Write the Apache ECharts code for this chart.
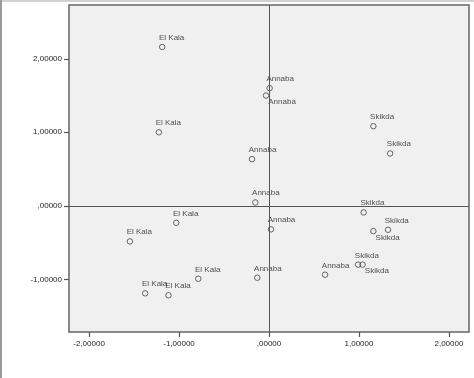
<!DOCTYPE html>
<html>
<head>
<meta charset="utf-8">
<script src="https://cdn.jsdelivr.net/npm/echarts@6/dist/echarts.min.js"></script>
<style>
  html, body { margin: 0; padding: 0; background: #fff; }
  #chart { width: 474px; height: 378px; }
</style>
</head>
<body>
<div id="chart"></div>
<script>
// object scores, dimension 1 (x) and dimension 2 (y)
const elKalaX = [-1.187, -1.224, -1.031, -1.546, -0.786, -1.376, -1.117];
const elKalaY = [2.16, 1.0, -0.231, -0.484, -0.992, -1.19, -1.217];
const annabaX = [0.007, -0.033, -0.189, -0.152, 0.022, 0.623, -0.13];
const annabaY = [1.6, 1.5, 0.635, 0.046, -0.32, -0.937, -0.978];
const skikdaX = [1.16, 1.346, 1.052, 1.323, 1.16, 0.99, 1.04];
const skikdaY = [1.083, 0.712, -0.09, -0.326, -0.344, -0.8, -0.8];

const xTicks = [-2, -1, 0, 1, 2];
const yTicks = [-1, 0, 1, 2];

// points whose label sits below-right of the marker
const labelBelow = { "Annaba": [1], "Skikda": [4, 6], "El Kala": [] };

const chart = echarts.init(document.getElementById("chart"));

function fmt(v) {
  // SPSS style: 2,00000  ,00000  -1,00000
  let s = Math.abs(v).toFixed(5).replace(".", ",");
  if (s.charAt(0) === "0") s = s.slice(1);
  return (v < 0 ? "-" : "") + s;
}

const labelAbove = { position: [0, -10] };
const labelUnder = { position: [5.5, 5.5] };

function makeSeries(name, xs, ys) {
  const below = labelBelow[name];
  return {
    name: name,
    type: "scatter",
    symbol: "circle",
    symbolSize: 5.5,
    itemStyle: { color: "rgba(0,0,0,0)", borderColor: "#444", borderWidth: 1 },
    label: {
      show: true,
      formatter: name,
      color: "#1e1e1e",
      fontSize: 8,
      fontFamily: "Liberation Sans, Arial, sans-serif",
      align: "left",
      verticalAlign: "top",
      position: labelAbove.position,
    },
    emphasis: { disabled: true },
    data: xs.map((x, i) => ({
      value: [x, ys[i]],
      label: below.indexOf(i) >= 0 ? labelUnder : labelAbove,
    })),
  };
}

const axisText = {
  color: "#1e1e1e",
  fontSize: 8,
  fontFamily: "Liberation Sans, Arial, sans-serif",
};

chart.setOption({
  backgroundColor: "#fff",
  animation: false,
  graphic: [
    { type: "rect", left: 0, top: 0, shape: { width: 474, height: 2 }, style: { fill: "#d2d2d2" } },
    { type: "rect", left: 0, top: 0, shape: { width: 2, height: 378 }, style: { fill: "#9a9a9a" } },
  ],
  grid: {
    left: 69,
    right: 5,
    top: 5,
    bottom: 46,
    show: true,
    backgroundColor: "#f0f0f0",
    borderColor: "#666",
    borderWidth: 1.5,
  },
  xAxis: {
    type: "value",
    min: -2.223,
    max: 2.223,
    axisLine: { show: false, onZero: false },
    splitLine: { show: false },
    axisTick: {
      show: true,
      length: 5,
      customValues: xTicks,
      lineStyle: { color: "#555", width: 1.2 },
    },
    axisLabel: Object.assign({ margin: 8, customValues: xTicks, formatter: fmt }, axisText),
  },
  yAxis: {
    type: "value",
    min: -1.716,
    max: 2.731,
    axisLine: { show: false, onZero: false },
    splitLine: { show: false },
    axisTick: {
      show: true,
      length: 5,
      customValues: yTicks,
      lineStyle: { color: "#555", width: 1.2 },
    },
    axisLabel: Object.assign({ margin: 7, customValues: yTicks, formatter: fmt }, axisText),
  },
  series: [
    Object.assign(makeSeries("El Kala", elKalaX, elKalaY), {
      markLine: {
        silent: true,
        symbol: "none",
        label: { show: false },
        lineStyle: { color: "#555", width: 1, type: "solid" },
        data: [{ xAxis: 0 }, { yAxis: 0 }],
      },
    }),
    makeSeries("Annaba", annabaX, annabaY),
    makeSeries("Skikda", skikdaX, skikdaY),
  ],
});
</script>
</body>
</html>
